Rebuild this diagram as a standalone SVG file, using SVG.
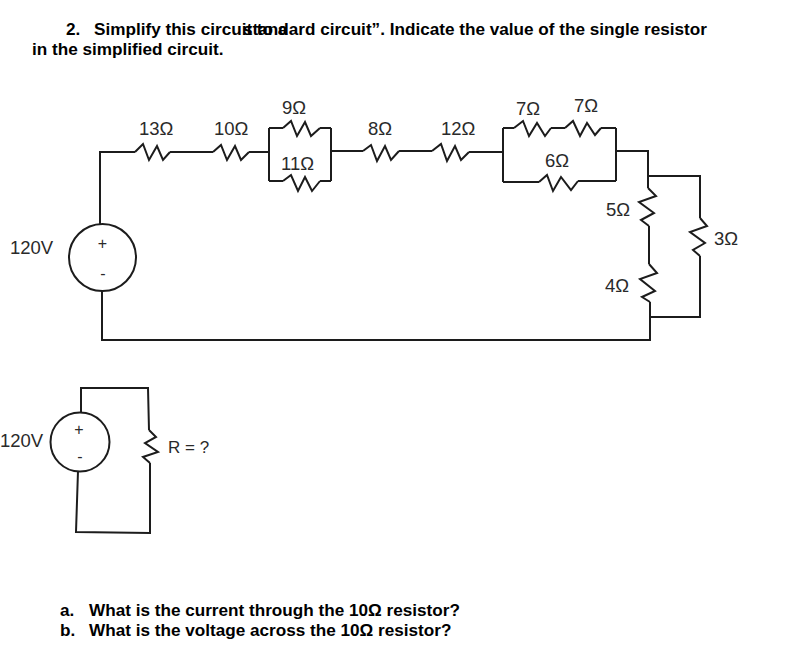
<svg xmlns="http://www.w3.org/2000/svg" width="799" height="658" viewBox="0 0 799 658">
<style>
.q{font:bold 17.15px "Liberation Sans",Arial,sans-serif;fill:#000}
.l{font:18.5px "Liberation Sans",Arial,sans-serif;fill:#2a2a2a}
.r{font:17px "Liberation Sans",Arial,sans-serif;fill:#2a2a2a}
.s{font:16px "Liberation Sans",Arial,sans-serif;fill:#2a2a2a;text-anchor:middle}
.w{fill:none;stroke:#1c1c1c;stroke-width:2;stroke-linejoin:miter}
.c{fill:#fff;stroke:#1c1c1c;stroke-width:2}
</style>
<rect width="799" height="658" fill="#fff"/>
<g id="question-text">
<text class="q" x="66" y="35">2.</text>
<text class="q" x="94" y="35">Simplify this circuit to a</text>
<text class="q" x="243" y="35">standard circuit”. Indicate the value of the single resistor</text>
<text class="q" x="32" y="55">in the simplified circuit.</text>
<text class="q" x="60" y="616">a.</text>
<text class="q" x="89" y="616">What is the current through the 10Ω resistor?</text>
<text class="q" x="60" y="636">b.</text>
<text class="q" x="89" y="636">What is the voltage across the 10Ω resistor?</text>
</g>
<g id="connectors">
<path class="w" d="M100 225V152H135M170 152H213M249 152H269M269 128V181M331 128V181M331 151H363M399 151H432M469 152H503M503 128V182M616 128V181M617 151H648V188M649 176H700V218M700 256V317H651M649 226V264M650 302V340H102V290"/>
<path class="w" d="M269 128H283M320 128H331M269 181H283M320 181H331M503 128H514M551 128H565M601 128H616M503 182H539M578 181H616"/>
<path class="w" d="M81 413V388H148L149 430M150 463V533L76 532L78 471"/>
</g>
<g id="r13"><path class="w" d="M135 152L143 144L149 160L157 146L163 160L170 152"/><text class="l" x="139" y="135">13Ω</text></g>
<g id="r10"><path class="w" d="M213 152L221 145L227 160L235 146L241 160L249 152"/><text class="l" x="214" y="135">10Ω</text></g>
<g id="r9"><path class="w" d="M283 128L291 121L297 136L305 122L311 136L320 128"/><text class="l" x="282" y="114">9Ω</text></g>
<g id="r11"><path class="w" d="M283 181L291 175L298 191L305 177L312 191L320 181"/><text class="l" x="281" y="170">11Ω</text></g>
<g id="r8"><path class="w" d="M363 151L371 145L377 161L385 146L391 160L399 151"/><text class="l" x="368" y="135">8Ω</text></g>
<g id="r12"><path class="w" d="M432 151L441 144L447 161L455 146L461 160L469 152"/><text class="l" x="441" y="135">12Ω</text></g>
<g id="r7a"><path class="w" d="M514 128L523 121L529 136L537 123L545 136L551 128"/><text class="l" x="516" y="115">7Ω</text></g>
<g id="r7b"><path class="w" d="M565 128L573 121L580 136L587 123L595 135L601 128"/><text class="l" x="574" y="112">7Ω</text></g>
<g id="r6"><path class="w" d="M539 182L547 175L553 191L561 177L571 190L578 181"/><text class="l" x="545" y="167">6Ω</text></g>
<g id="r5"><path class="w" d="M648 188L656 196L639 202L654 213L641 220L649 226"/><text class="l" x="606" y="216">5Ω</text></g>
<g id="r4"><path class="w" d="M649 264L657 273L640 279L655 291L642 297L650 302"/><text class="l" x="605" y="292">4Ω</text></g>
<g id="r3"><path class="w" d="M700 218L707 226L690 232L705 243L693 250L700 256"/><text class="l" x="714" y="245">3Ω</text></g>
<g id="source-main"><circle class="c" cx="102.5" cy="257.5" r="33.5"/><text class="s" x="102.5" y="249">+</text><text class="s" x="103" y="279">-</text><text class="l" x="10" y="254">120V</text></g>
<g id="source-simple"><circle class="c" cx="80" cy="442" r="29.5"/><text class="s" x="79" y="435">+</text><text class="s" x="80" y="462">-</text><text class="l" x="0" y="447">120V</text></g>
<g id="r-unknown"><path class="w" d="M149 430L156 437L145 443L158 452L143 457L150 463"/><text class="r" x="168" y="453">R = ?</text></g>
</svg>
